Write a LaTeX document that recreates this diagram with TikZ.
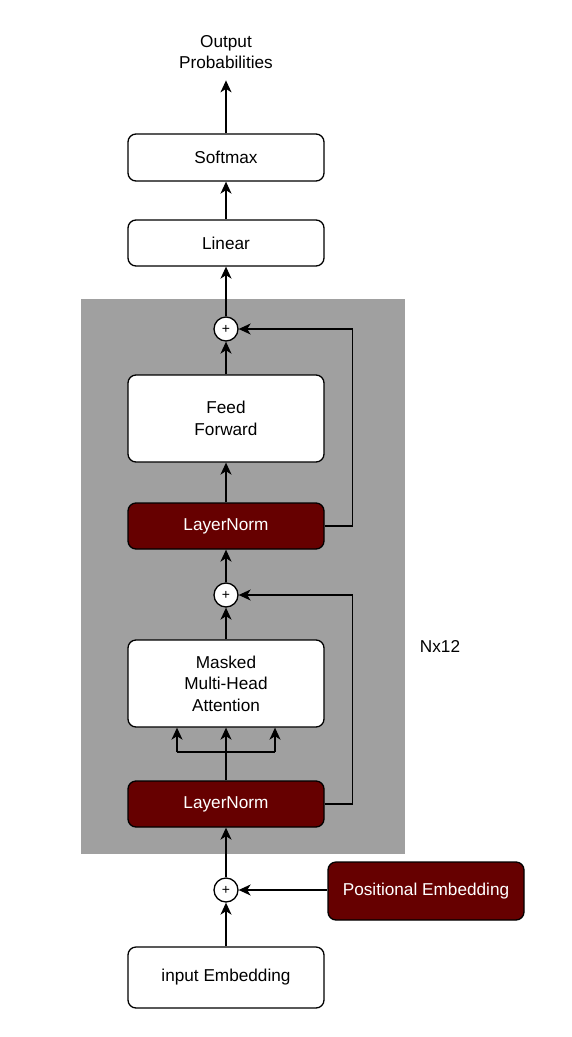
\documentclass[tikz,border=0pt]{standalone}
\usepackage{fontspec}
\setmainfont{Liberation Sans}
\usetikzlibrary{arrows.meta,positioning}
\definecolor{blockgray}{RGB}{160,160,160}
\definecolor{darkred}{RGB}{102,0,0}
\tikzset{
  box/.style={draw=black, line width=1.3pt, rounded corners=8pt, fill=white,
    minimum width=196pt, align=center, font=\fontsize{17.2}{21.5}\selectfont, inner sep=0pt},
  redbox/.style={box, fill=darkred, text=white},
  plus/.style={draw=black, line width=1.3pt, circle, fill=white, minimum size=24pt,
    inner sep=0pt, font=\fontsize{14}{14}\selectfont},
  conn/.style={line width=1.4pt, -{Stealth[length=12pt,width=11pt,inset=3.5pt]}},
  lbl/.style={align=center, font=\fontsize{17.2}{21.5}\selectfont}
}
\begin{document}
\begin{tikzpicture}[x=1pt,y=-1pt]
\useasboundingbox (0,0) rectangle (571,1037);
\fill[blockgray] (81,299) rectangle (405,854);

\node[lbl] (out) at (226,52) {Output\\Probabilities};
\node[box, minimum height=47pt] (softmax) at (226,157.5) {Softmax};
\node[box, minimum height=46pt] (linear) at (226,243) {Linear};
\node[plus] (p1) at (226,329) {+};
\node[box, minimum height=87pt] (ff) at (226,418.5) {Feed\\Forward};
\node[redbox, minimum height=46pt] (ln2) at (226,526) {LayerNorm};
\node[plus] (p2) at (226,595) {+};
\node[box, minimum height=87pt] (mha) at (226,683.5) {Masked\\Multi-Head\\Attention};
\node[redbox, minimum height=46pt] (ln1) at (226,804) {LayerNorm};
\node[plus] (p3) at (226,890) {+};
\node[redbox, minimum height=58pt] (pe) at (426,891) {Positional Embedding};
\node[box, minimum height=61pt] (ie) at (226,977.5) {input Embedding};
\node[lbl] (nx) at (440,646) {Nx12};

\coordinate (bl) at (177,752);
\coordinate (brr) at (275,752);

\draw[conn] (ie.north) -- (p3.south);
\draw[conn] (pe.west |- p3.east) -- (p3.east);
\draw[conn] (p3.north) -- (ln1.south);
\draw[conn] (ln1.north) -- (mha.south);
\draw[line width=1.4pt] (bl) -- (brr);
\draw[conn] (bl) -- (bl |- mha.south);
\draw[conn] (brr) -- (brr |- mha.south);
\draw[conn] (mha.north) -- (p2.south);
\draw[conn] (ln1.east) -- ++(28,0) |- (p2.east);
\draw[conn] (p2.north) -- (ln2.south);
\draw[conn] (ln2.north) -- (ff.south);
\draw[conn] (ff.north) -- (p1.south);
\draw[conn] (ln2.east) -- ++(28,0) |- (p1.east);
\draw[conn] (p1.north) -- (linear.south);
\draw[conn] (linear.north) -- (softmax.south);
\draw[conn] (softmax.north) -- ([yshift=-8pt]out.south);
\end{tikzpicture}
\end{document}
